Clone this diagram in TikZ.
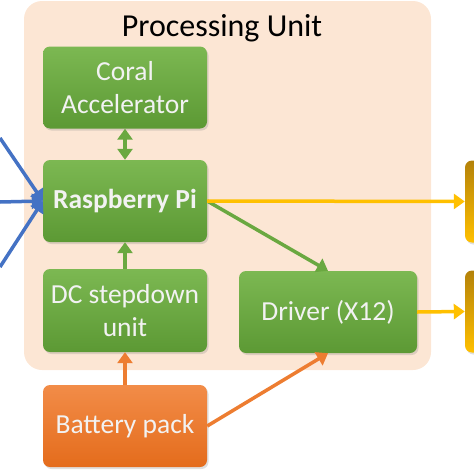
\documentclass[tikz,border=0pt]{standalone}
\usepackage{fontspec}
\setmainfont{Carlito}
\usetikzlibrary{arrows.meta}
\usetikzlibrary{shadows}

\definecolor{unitbg}{RGB}{252,230,212}
\definecolor{greentop}{RGB}{124,184,82}
\definecolor{greenbot}{RGB}{92,153,52}
\definecolor{orangetop}{RGB}{242,140,72}
\definecolor{orangebot}{RGB}{228,108,28}
\definecolor{goldtop}{RGB}{180,130,10}
\definecolor{goldbot}{RGB}{255,192,0}
\definecolor{linegreen}{RGB}{106,168,64}
\definecolor{lineorange}{RGB}{237,125,49}
\definecolor{lineyellow}{RGB}{255,192,0}
\definecolor{lineblue}{RGB}{68,114,196}

\begin{document}
\begin{tikzpicture}[%
  >={Triangle[length=11pt,width=15pt]},
  x=1pt, y=-1pt,
  block/.style={rounded corners=7pt, minimum width=164pt, minimum height=82pt,
    align=center, text=white!95!black, font=\fontsize{27.5}{33}\selectfont,
    drop shadow={shadow xshift=1.5pt, shadow yshift=-2pt, opacity=0.25}},
  greenblock/.style={block, top color=greentop, bottom color=greenbot},
  orangeblock/.style={block, top color=orangetop, bottom color=orangebot},
  goldblock/.style={block, top color=goldtop, bottom color=goldbot},
  link/.style={->, line width=3.5pt}
]

  \useasboundingbox (0,0) rectangle (474,474);

  % processing unit
  \fill[unitbg, rounded corners=18pt] (24,1) rectangle (431,370);
  \node[font=\fontsize{32}{38}\selectfont] (title) at (222,28) {Processing Unit};

  \node[greenblock] (coral) at (125,87.5) {Coral\\Accelerator};
  \node[greenblock, font=\fontsize{27.5}{33}\selectfont\bfseries] (rpi) at (125,201) {Raspberry Pi};
  \node[greenblock, minimum height=83pt] (dc) at (125,310.5) {DC stepdown\\unit};
  \node[greenblock, minimum width=178pt] (driver) at (328,312) {Driver (X12)};
  \node[orangeblock] (battery) at (125,426) {Battery pack};

  % outputs, cut off at the right edge
  \node[goldblock] (outa) at (547,201.5) {};
  \node[goldblock] (outb) at (547,311.5) {};

  % inputs
  \coordinate (ina) at (0,138);
  \coordinate (inb) at (0,202);
  \coordinate (inc) at (0,267);

  \draw[link, lineblue] (ina) -- (rpi.west);
  \draw[link, lineblue] (inb) -- (rpi.west);
  \draw[link, lineblue] (inc) -- (rpi.west);

  \draw[link, linegreen, <->] (coral) -- (rpi);
  \draw[link, linegreen] (dc) -- (rpi);
  \draw[link, linegreen] (rpi.east) -- (driver.north);
  \draw[link, lineorange] (battery) -- (dc);
  \draw[link, lineorange] (battery.east) -- (driver.south);
  \draw[link, lineyellow] (rpi.east) -- (outa.west);
  \draw[link, lineyellow] (driver.east) -- (outb.west);

\end{tikzpicture}
\end{document}
